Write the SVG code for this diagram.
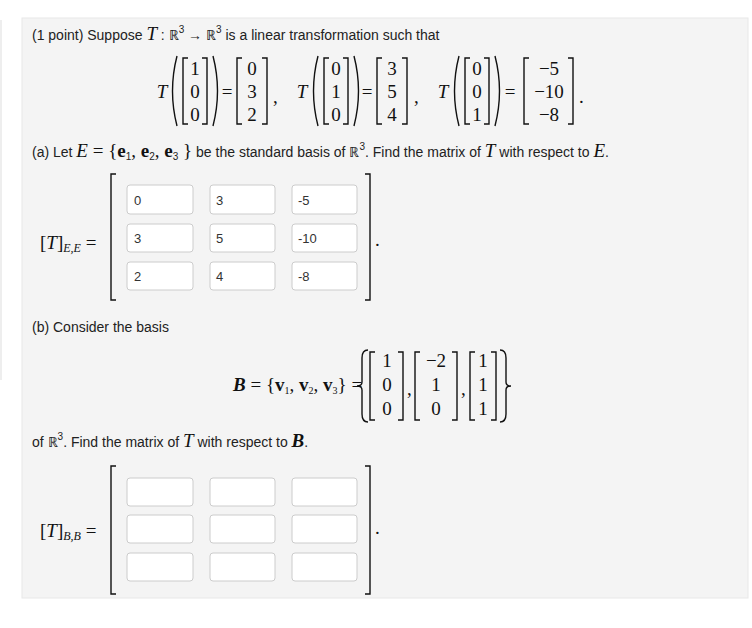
<svg xmlns="http://www.w3.org/2000/svg" width="752" height="628" viewBox="0 0 752 628">
<style>
.t{font-family:"Liberation Sans Narrow","Liberation Sans",sans-serif;font-size:14px;fill:#222}
.m{font-family:"Liberation Serif",serif;font-size:19px;fill:#111}
.mi{font-family:"Liberation Serif",serif;font-size:19px;font-style:italic;fill:#111}
.c{text-anchor:middle}
.br{fill:none;stroke:#111;stroke-width:1.4}
.box{fill:#fff;stroke:#ccc;stroke-width:1}
.v{font-family:"Liberation Sans",sans-serif;font-size:13px;fill:#333}
</style>
<rect width="752" height="628" fill="#fff"/>
<rect x="22" y="18" width="726" height="580" fill="#f4f4f4" stroke="#e8e8e8"/>
<line x1="1" y1="20" x2="1" y2="380" stroke="#ddd"/>
<g id="intro">
<text class="t" x="32" y="40">(1 point) Suppose <tspan class="mi" font-size="17">T</tspan> : ℝ<tspan dy="-7" font-size="10">3</tspan><tspan dy="7"> → ℝ</tspan><tspan dy="-7" font-size="10">3</tspan><tspan dy="7"> is a linear transformation such that</tspan></text>
</g>
<g id="eq1">
<text class="mi c" x="162" y="98">T</text>
<path class="br" d="M177,56 Q168,91 177,126 M213,56 Q222,91 213,126"/>
<path class="br" d="M188,58 h-5 v66 h5 M202,58 h5 v66 h-5"/>
<text class="m c" x="195" y="75">1</text><text class="m c" x="195" y="98">0</text><text class="m c" x="195" y="121">0</text>
<text class="m c" x="227" y="98">=</text>
<path class="br" d="M242,58 h-5 v66 h5 M262,58 h5 v66 h-5"/>
<text class="m c" x="252" y="75">0</text><text class="m c" x="252" y="98">3</text><text class="m c" x="252" y="121">2</text>
<text class="m" x="273" y="103">,</text>
<text class="mi c" x="302" y="98">T</text>
<path class="br" d="M318,56 Q309,91 318,126 M354,56 Q363,91 354,126"/>
<path class="br" d="M329,58 h-5 v66 h5 M343,58 h5 v66 h-5"/>
<text class="m c" x="336" y="75">0</text><text class="m c" x="336" y="98">1</text><text class="m c" x="336" y="121">0</text>
<text class="m c" x="367" y="98">=</text>
<path class="br" d="M382,58 h-5 v66 h5 M402,58 h5 v66 h-5"/>
<text class="m c" x="392" y="75">3</text><text class="m c" x="392" y="98">5</text><text class="m c" x="392" y="121">4</text>
<text class="m" x="414" y="103">,</text>
<text class="mi c" x="443" y="98">T</text>
<path class="br" d="M459,56 Q450,91 459,126 M495,56 Q504,91 495,126"/>
<path class="br" d="M470,58 h-5 v66 h5 M484,58 h5 v66 h-5"/>
<text class="m c" x="477" y="75">0</text><text class="m c" x="477" y="98">0</text><text class="m c" x="477" y="121">1</text>
<text class="m c" x="510" y="98">=</text>
<path class="br" d="M529,58 h-5 v66 h5 M568,58 h5 v66 h-5"/>
<text class="m c" x="549" y="75">−5</text><text class="m c" x="549" y="98">−10</text><text class="m c" x="549" y="121">−8</text>
<text class="m" x="579" y="103">.</text>
</g>
<g id="parta">
<text class="t" x="32" y="157">(a) Let <tspan class="mi" font-size="17">E</tspan><tspan class="m" font-size="17"> = {</tspan><tspan class="m" font-size="17" font-weight="bold">e</tspan><tspan font-size="10" dy="3">1</tspan><tspan class="m" font-size="17" dy="-3">, </tspan><tspan class="m" font-size="17" font-weight="bold">e</tspan><tspan font-size="10" dy="3">2</tspan><tspan class="m" font-size="17" dy="-3">, </tspan><tspan class="m" font-size="17" font-weight="bold">e</tspan><tspan font-size="10" dy="3">3</tspan><tspan class="m" font-size="17" dy="-3"> }</tspan> be the standard basis of ℝ<tspan dy="-7" font-size="10">3</tspan><tspan dy="7">. Find the matrix of </tspan><tspan class="mi" font-size="17">T</tspan> with respect to <tspan class="mi" font-size="17">E</tspan>.</text>
</g>
<g id="matE">
<text class="m" x="40" y="249" font-size="17">[<tspan font-style="italic">T</tspan>]<tspan font-size="12" font-style="italic" dy="3">E,E</tspan><tspan dy="-3"> =</tspan></text>
<path class="br" d="M116,174 h-5 v126 h5 M365,174 h5 v126 h-5"/>
<rect class="box" x="127" y="185" width="66" height="29" rx="3"/><text class="v" x="134" y="205">0</text>
<rect class="box" x="210" y="185" width="65" height="29" rx="3"/><text class="v" x="216" y="205">3</text>
<rect class="box" x="292" y="185" width="65" height="29" rx="3"/><text class="v" x="298" y="205">-5</text>
<rect class="box" x="127" y="224" width="66" height="28" rx="3"/><text class="v" x="134" y="243">3</text>
<rect class="box" x="210" y="224" width="65" height="28" rx="3"/><text class="v" x="216" y="243">5</text>
<rect class="box" x="292" y="224" width="65" height="28" rx="3"/><text class="v" x="298" y="243">-10</text>
<rect class="box" x="127" y="262" width="66" height="28" rx="3"/><text class="v" x="134" y="281">2</text>
<rect class="box" x="210" y="262" width="65" height="28" rx="3"/><text class="v" x="216" y="281">4</text>
<rect class="box" x="292" y="262" width="65" height="28" rx="3"/><text class="v" x="298" y="281">-8</text>
<text class="m" x="375" y="246">.</text>
</g>
<g id="partb">
<text class="t" x="32" y="332">(b) Consider the basis</text>
<text class="m" x="233" y="391" font-size="16"><tspan font-style="italic" font-weight="bold">B</tspan> = {<tspan font-weight="bold">v</tspan><tspan font-size="10" dy="3">1</tspan><tspan dy="-3">, </tspan><tspan font-weight="bold">v</tspan><tspan font-size="10" dy="3">2</tspan><tspan dy="-3">, </tspan><tspan font-weight="bold">v</tspan><tspan font-size="10" dy="3">3</tspan><tspan dy="-3">} =</tspan></text>
<path class="br" d="M368,350 q-6,0 -6,8 v24 q0,4 -5,4 q5,0 5,4 v24 q0,8 6,8"/>
<path class="br" d="M500,350 q6,0 6,8 v24 q0,4 5,4 q-5,0 -5,4 v24 q0,8 -6,8"/>
<path class="br" d="M375,352 h-5 v68 h5 M398,352 h5 v68 h-5"/>
<text class="m c" x="387" y="367">1</text><text class="m c" x="387" y="391">0</text><text class="m c" x="387" y="415">0</text>
<text class="m" x="407" y="395">,</text>
<path class="br" d="M420,352 h-5 v68 h5 M452,352 h5 v68 h-5"/>
<text class="m c" x="436" y="367">−2</text><text class="m c" x="436" y="391">1</text><text class="m c" x="436" y="415">0</text>
<text class="m" x="461" y="395">,</text>
<path class="br" d="M475,352 h-5 v68 h5 M491,352 h5 v68 h-5"/>
<text class="m c" x="483" y="367">1</text><text class="m c" x="483" y="391">1</text><text class="m c" x="483" y="415">1</text>
<text class="t" x="32" y="447">of ℝ<tspan dy="-7" font-size="10">3</tspan><tspan dy="7">. Find the matrix of </tspan><tspan class="mi" font-size="17">T</tspan> with respect to <tspan class="mi" font-size="17" font-weight="bold">B</tspan>.</text>
</g>
<g id="matB">
<text class="m" x="40" y="537" font-size="17">[<tspan font-style="italic">T</tspan>]<tspan font-size="12" font-style="italic" dy="3">B,B</tspan><tspan dy="-3"> =</tspan></text>
<path class="br" d="M116,466 h-5 v128 h5 M365,466 h5 v128 h-5"/>
<rect class="box" x="127" y="478" width="66" height="28" rx="3"/>
<rect class="box" x="210" y="478" width="65" height="28" rx="3"/>
<rect class="box" x="292" y="478" width="65" height="28" rx="3"/>
<rect class="box" x="127" y="515" width="66" height="28" rx="3"/>
<rect class="box" x="210" y="515" width="65" height="28" rx="3"/>
<rect class="box" x="292" y="515" width="65" height="28" rx="3"/>
<rect class="box" x="127" y="553" width="66" height="28" rx="3"/>
<rect class="box" x="210" y="553" width="65" height="28" rx="3"/>
<rect class="box" x="292" y="553" width="65" height="28" rx="3"/>
<text class="m" x="375" y="534">.</text>
</g>
</svg>
